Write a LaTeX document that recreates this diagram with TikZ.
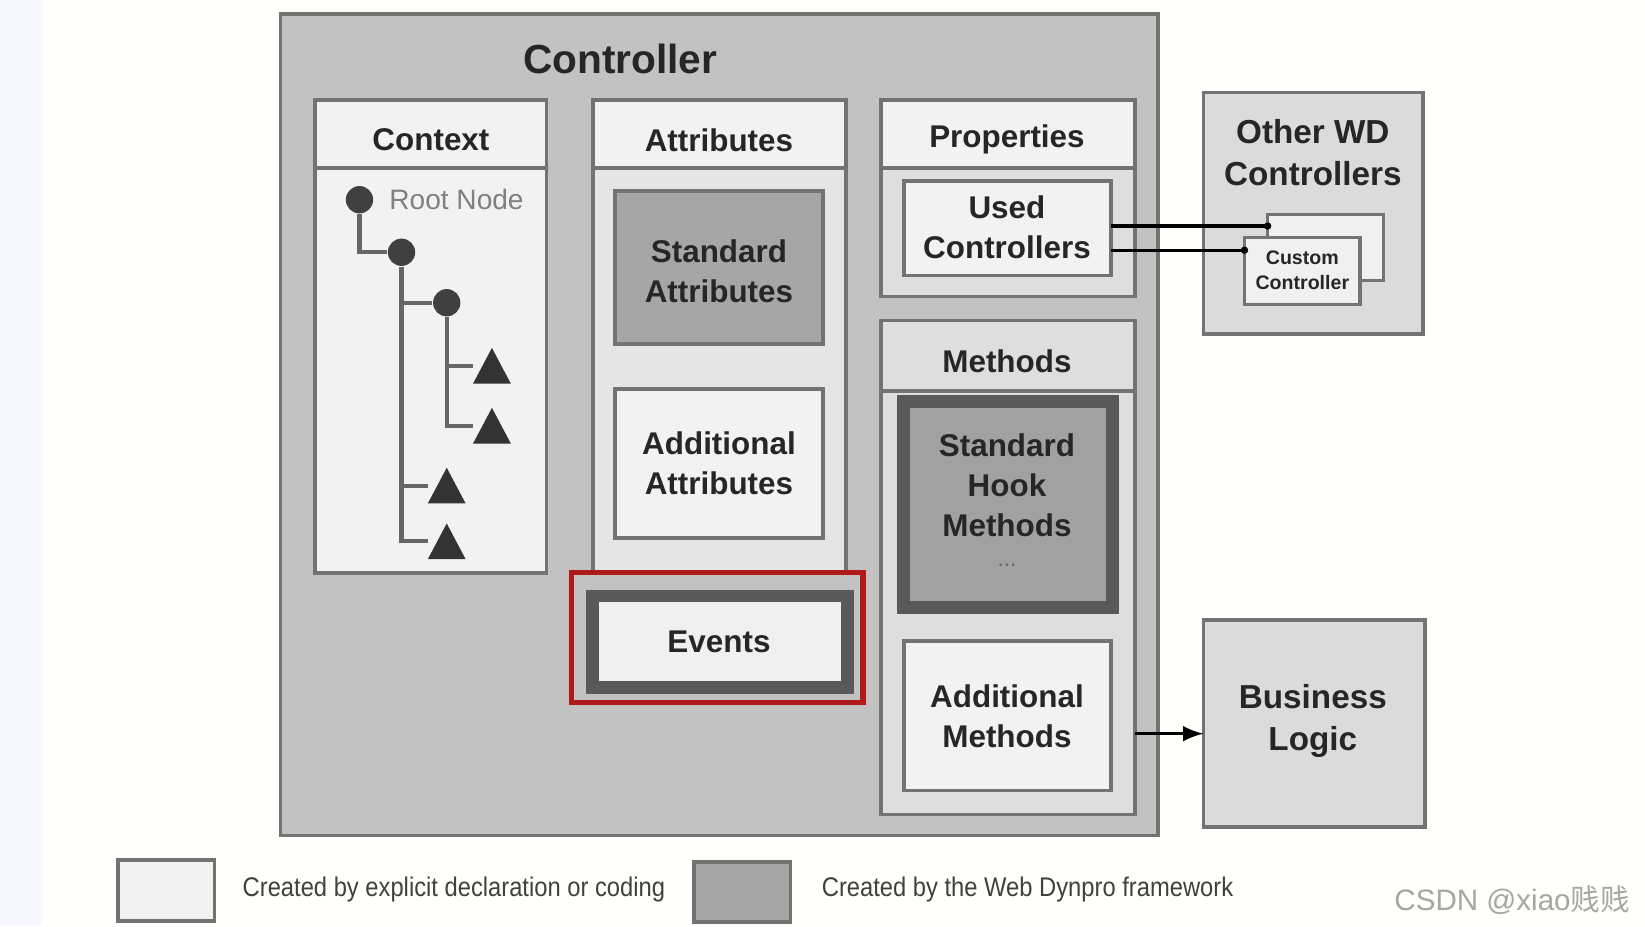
\documentclass[tikz,border=0pt]{standalone}
\usepackage{fontspec}
\setmainfont{Liberation Sans}
\newfontfamily\cjk{Noto Sans CJK SC}
\begin{document}
\begin{tikzpicture}[x=0.01cm,y=-0.01cm,
 box/.style={draw=black!55,line width=1pt},
 lite/.style={box,fill=black!5},
 mid/.style={box,fill=black!13},
 dark/.style={box,fill=black!35},
 lbl/.style={font=\bfseries\fontsize{8.5}{10.8}\selectfont,align=center,text=black!85},
 dot/.style={circle,fill=black!75,inner sep=0pt,minimum size=0.26cm},
 tree/.style={black!60,line width=1.1pt},
]
\useasboundingbox (0,0) rectangle (1565,881);
\fill[blue!3] (0,0) rectangle (40,881);
\fill[yellow!1] (40,0) rectangle (1565,881);
% controller
\draw[box,fill=black!24] (267,13) rectangle (1102,795);
\node[lbl,font=\bfseries\fontsize{11}{13}\selectfont] (title) at (590,56) {Controller};
% context
\draw[lite] (300,95) rectangle (520,545);
\draw[box] (300,160) -- (520,160);
\node[lbl] (ctx) at (410,133) {Context};
\node[dot] (r) at (342,190) {};
\node[anchor=west,font=\fontsize{7.6}{9}\selectfont,text=black!50] (rl) at (358,190) {Root Node};
\node[dot] (n1) at (382,240) {};
\node[dot] (n2) at (425,288) {};
\foreach \x/\y in {468/348,468/405,425/462,425/515}
  \fill[black!80] (\x-18,\y+17) -- (\x,\y-17) -- (\x+18,\y+17) -- cycle;
\coordinate (t1) at (450,348);\coordinate (t2) at (450,405);
\coordinate (t3) at (407,462);\coordinate (t4) at (407,515);
\draw[tree] (r) |- (n1);
\draw[tree] (n1) |- (n2);
\draw[tree] (n1) |- (t4);
\draw[tree] (382,462) -- (t3);
\draw[tree] (n2) |- (t2);
\draw[tree] (425,348) -- (t1);
% attributes
\draw[box,fill=black!10] (564,95) rectangle (805,545);
\draw[box,fill=black!5] (564,95) rectangle (805,160);
\node[lbl] (att) at (684,133) {Attributes};
\draw[dark] (585,182) rectangle (783,327);
\node[lbl] (sa) at (684,258) {Standard\\Attributes};
\draw[lite] (585,370) rectangle (783,512);
\node[lbl] (aa) at (684,441) {Additional\\Attributes};
% events
\draw[draw=red!65!black!90,line width=1.4pt] (544,545) rectangle (821,668);
\draw[draw=black!65,line width=3.5pt,fill=black!6] (564,567) rectangle (806,654);
\node[lbl] (ev) at (684,611) {Events};
% properties
\draw[mid] (838,95) rectangle (1080,282);
\draw[box,fill=black!5] (838,95) rectangle (1080,160);
\node[lbl] (prop) at (958,133) {Properties};
\draw[lite] (860,172) rectangle (1057,262);
\node[lbl] (uc) at (958,216) {Used\\Controllers};
% methods
\draw[mid] (838,305) rectangle (1080,775);
\draw[box] (838,372) -- (1080,372);
\node[lbl] (meth) at (958,344) {Methods};
\draw[draw=black!65,line width=3.5pt,fill=black!37] (860,382) rectangle (1058,578);
\node[lbl] (shm) at (958,462) {Standard\\Hook\\Methods};
\node[font=\fontsize{6}{7}\selectfont,text=black!60] (dots) at (958,538) {...};
\draw[lite] (860,610) rectangle (1057,752);
\node[lbl] (am) at (958,681) {Additional\\Methods};
% other WD
\draw[box,fill=black!14] (1145,88) rectangle (1354,318);
\node[lbl,font=\bfseries\fontsize{9}{11.5}\selectfont] (ow) at (1249,145) {Other WD\\Controllers};
\draw[box,line width=0.9pt,fill=black!6] (1206,204) rectangle (1316,267);
\draw[box,line width=0.9pt,fill=black!6] (1184,226) rectangle (1294,290);
\node[lbl,font=\bfseries\fontsize{5.3}{6.8}\selectfont] (cc) at (1239,257) {Custom\\Controller};
\coordinate (u1) at (1057,215); \coordinate (c1) at (1206,215);
\coordinate (u2) at (1057,238); \coordinate (c2) at (1184,238);
\draw[line width=0.9pt] (u1) -- (c1);
\draw[line width=0.9pt] (u2) -- (c2);
\fill (c1) circle (3.5); \fill (c2) circle (3.5);
% business
\draw[box,fill=black!14] (1145,590) rectangle (1356,787);
\node[lbl,font=\bfseries\fontsize{9}{11.5}\selectfont] (bl) at (1249,686) {Business\\Logic};
\coordinate (m1) at (1080,698); \coordinate (b1) at (1145,698);
\draw[line width=0.9pt,-latex] (m1) -- (b1);
% legend
\draw[lite] (112,818) rectangle (204,876);
\node[anchor=west,font=\fontsize{7.3}{9}\selectfont,text=black!75,xscale=0.88,transform shape] (l1) at (220,846) {Created by explicit declaration or coding};
\draw[box,fill=black!35] (660,820) rectangle (752,877);
\node[anchor=west,font=\fontsize{7.3}{9}\selectfont,text=black!75,xscale=0.88,transform shape] (l2) at (771,846) {Created by the Web Dynpro framework};
\node[anchor=east,font=\fontsize{8}{10}\selectfont,text=black!35] (wm) at (1563,856) {CSDN @xiao{\cjk 贱贱}};
\end{tikzpicture}
\end{document}
